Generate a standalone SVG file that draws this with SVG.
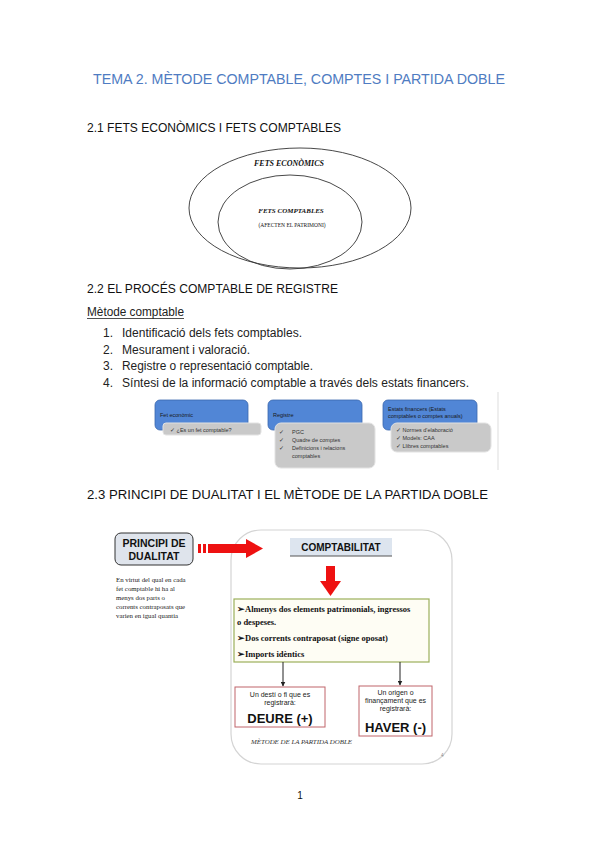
<svg xmlns="http://www.w3.org/2000/svg" width="599" height="848" viewBox="0 0 599 848">
<defs>
<style>
.sans{font-family:"Liberation Sans",Arial,sans-serif}
.serif{font-family:"Liberation Serif","Times New Roman",serif}
.h{font-family:"Liberation Sans",Arial,sans-serif;font-size:12.5px;fill:#111}
.li{font-family:"Liberation Sans",Arial,sans-serif;font-size:12px;fill:#222}
.blue{fill:#5186d6;stroke:#3a67ad;stroke-width:0.8}
.gray{fill:#c9c9c9;stroke:#e2e2e2;stroke-width:1}
.bt{font-family:"Liberation Sans",Arial,sans-serif;font-size:5.5px;fill:#1a1a1a}
.gt{font-family:"Liberation Sans",Arial,sans-serif;font-size:5.5px;fill:#333}
.green{font-family:"Liberation Serif","Times New Roman",serif;font-size:8.5px;font-weight:bold;fill:#111}
.small{font-family:"Liberation Sans",Arial,sans-serif;font-size:7px;fill:#222}
</style>
<marker id="ah" viewBox="0 0 10 10" refX="9" refY="5" markerWidth="5" markerHeight="5" orient="auto">
<path d="M0,0 L10,5 L0,10 z" fill="#222"/>
</marker>
</defs>
<rect width="599" height="848" fill="#fff"/>

<!-- Headings -->
<text x="93" y="84" class="sans" font-size="14" fill="#4f7cc2" textLength="412" lengthAdjust="spacingAndGlyphs">TEMA 2. MÈTODE COMPTABLE, COMPTES I PARTIDA DOBLE</text>
<text x="87" y="132" class="h" textLength="254" lengthAdjust="spacingAndGlyphs">2.1 FETS ECONÒMICS I FETS COMPTABLES</text>
<text x="87" y="293" class="h" textLength="251" lengthAdjust="spacingAndGlyphs">2.2 EL PROCÉS COMPTABLE DE REGISTRE</text>
<text x="87" y="316" class="li" textLength="97" lengthAdjust="spacingAndGlyphs">Mètode comptable</text>
<line x1="87" y1="318.5" x2="184" y2="318.5" stroke="#222" stroke-width="0.8"/>
<g class="li">
<text x="103" y="337">1.</text><text x="122" y="337" textLength="180" lengthAdjust="spacingAndGlyphs">Identificació dels fets comptables.</text>
<text x="103" y="354">2.</text><text x="122" y="354" textLength="128" lengthAdjust="spacingAndGlyphs">Mesurament i valoració.</text>
<text x="103" y="370">3.</text><text x="122" y="370" textLength="191" lengthAdjust="spacingAndGlyphs">Registre o representació comptable.</text>
<text x="103" y="387">4.</text><text x="122" y="387" textLength="347" lengthAdjust="spacingAndGlyphs">Síntesi de la informació comptable a través dels estats financers.</text>
</g>
<text x="87" y="499" class="h" textLength="401" lengthAdjust="spacingAndGlyphs">2.3 PRINCIPI DE DUALITAT I EL MÈTODE DE LA PARTIDA DOBLE</text>

<!-- 2.1 ellipses -->
<g id="fets-economics">
<ellipse cx="300" cy="208" rx="111" ry="60" fill="none" stroke="#333" stroke-width="0.9"/>
<text x="289" y="166" class="serif" font-size="8" font-style="italic" font-weight="bold" text-anchor="middle" fill="#111">FETS ECONÒMICS</text>
</g>
<g id="fets-comptables">
<ellipse cx="290" cy="222" rx="72" ry="47" fill="none" stroke="#333" stroke-width="0.9"/>
<text x="291" y="213" class="serif" font-size="7" font-style="italic" font-weight="bold" text-anchor="middle" fill="#111">FETS COMPTABLES</text>
<text x="292" y="227" class="serif" font-size="5.5" text-anchor="middle" fill="#111">(AFECTEN EL PATRIMONI)</text>
</g>

<!-- 2.2 process -->
<rect x="497" y="392" width="2" height="78" fill="#eee"/>
<g id="proc-fet">
<rect x="155" y="400" width="93" height="30" rx="5" class="blue"/>
<rect x="163" y="423" width="98" height="12" rx="3" class="gray"/>
<text x="160" y="417" class="bt">Fet econòmic</text>
<text x="170" y="431.5" class="gt">✓ ¿Es un fet comptable?</text>
</g>
<g id="proc-registre">
<rect x="268" y="400" width="94" height="30" rx="5" class="blue"/>
<rect x="275" y="423" width="100" height="45" rx="6" class="gray"/>
<text x="273" y="417" class="bt">Registre</text>
<g class="gt">
<text x="279" y="434">✓</text><text x="292" y="434">PGC</text>
<text x="279" y="442">✓</text><text x="292" y="442">Quadre de comptes</text>
<text x="279" y="450">✓</text><text x="292" y="450">Definicions i relacions</text>
<text x="292" y="458">comptables</text>
</g>
</g>
<g id="proc-estats">
<rect x="383" y="400" width="94" height="30" rx="5" class="blue"/>
<rect x="391" y="423" width="100" height="29" rx="6" class="gray"/>
<text x="388" y="411" class="bt">Estats financers (Estats</text>
<text x="388" y="418" class="bt">comptables o comptes anuals)</text>
<g class="gt">
<text x="396" y="432">✓ Normes d'elaboració</text>
<text x="396" y="440">✓ Models: CAA</text>
<text x="396" y="448">✓ Llibres comptables</text>
</g>
</g>

<!-- 2.3 diagram -->
<g id="frame">
<rect x="231" y="530" width="221" height="234" rx="30" fill="#fff" stroke="#d4d4d4" stroke-width="1.2"/>
<text x="251" y="744" class="serif" font-size="6" font-style="italic" fill="#333" textLength="101" lengthAdjust="spacingAndGlyphs">MÈTODE DE LA PARTIDA DOBLE</text>
<text x="441" y="757" class="sans" font-size="4.5" fill="#888">4</text>
</g>

<g id="principi">
<rect x="115" y="533" width="78" height="32" rx="6" fill="#dfe4ec" stroke="#333" stroke-width="1"/>
<text x="154" y="547" class="sans" font-size="10.5" font-weight="bold" text-anchor="middle" fill="#111">PRINCIPI DE</text>
<text x="154" y="560" class="sans" font-size="10.5" font-weight="bold" text-anchor="middle" fill="#111">DUALITAT</text>
<g class="serif" font-size="6.8" fill="#222">
<text x="116" y="582">En virtut del qual en cada</text>
<text x="116" y="591">fet comptable hi ha al</text>
<text x="116" y="600">menys dos parts o</text>
<text x="116" y="609">corrents contraposats que</text>
<text x="116" y="618">varien en igual quantia</text>
</g>
</g>

<g id="comptabilitat">
<rect x="290" y="538" width="102" height="18" fill="#dde5ef"/>
<line x1="290" y1="556" x2="392" y2="556" stroke="#555" stroke-width="1"/>
<text x="341" y="551" class="sans" font-size="10" font-weight="bold" text-anchor="middle" fill="#111">COMPTABILITAT</text>
</g>

<g id="caracteristiques">
<rect x="234" y="599" width="195" height="63" fill="#fefdf4" stroke="#9bb05a" stroke-width="1.2"/>
<text x="237" y="612" class="green">➢Almenys dos elements patrimonials, ingressos</text>
<text x="237" y="625" class="green">o despeses.</text>
<text x="237" y="641" class="green">➢Dos corrents contraposat (signe oposat)</text>
<text x="237" y="657" class="green">➢Imports idèntics</text>
</g>

<g id="deure">
<rect x="235" y="687" width="90" height="40" fill="#fff" stroke="#c0646a" stroke-width="1"/>
<text x="280" y="697" class="small" text-anchor="middle">Un destí o fi que es</text>
<text x="280" y="705" class="small" text-anchor="middle">registrarà:</text>
<text x="280" y="723" class="sans" font-size="13" font-weight="bold" text-anchor="middle" fill="#111">DEURE (+)</text>
</g>

<g id="haver">
<rect x="359" y="686" width="73" height="50" fill="#fff" stroke="#c0646a" stroke-width="1"/>
<text x="395.5" y="695" class="small" text-anchor="middle">Un origen o</text>
<text x="395.5" y="703" class="small" text-anchor="middle">finançament que es</text>
<text x="395.5" y="711" class="small" text-anchor="middle">registrarà:</text>
<text x="395.5" y="732" class="sans" font-size="13" font-weight="bold" text-anchor="middle" fill="#111">HAVER (-)</text>
</g>

<g id="connectors">
<rect x="198" y="544" width="3" height="9" fill="#e11"/>
<rect x="203" y="544" width="3" height="9" fill="#e11"/>
<rect x="208" y="544" width="40" height="9" fill="#e11"/>
<path d="M246,539 L263,548.5 L246,558 z" fill="#e11"/>
<rect x="326" y="566" width="9" height="16" fill="#e11"/>
<path d="M320,581 L341,581 L330.5,596 z" fill="#e11"/>
<line x1="283" y1="662" x2="283" y2="686" stroke="#222" stroke-width="1" marker-end="url(#ah)"/>
<line x1="400" y1="662" x2="400" y2="685" stroke="#222" stroke-width="1" marker-end="url(#ah)"/>
</g>

<text x="300" y="799" class="sans" font-size="10" text-anchor="middle" fill="#111">1</text>
</svg>
